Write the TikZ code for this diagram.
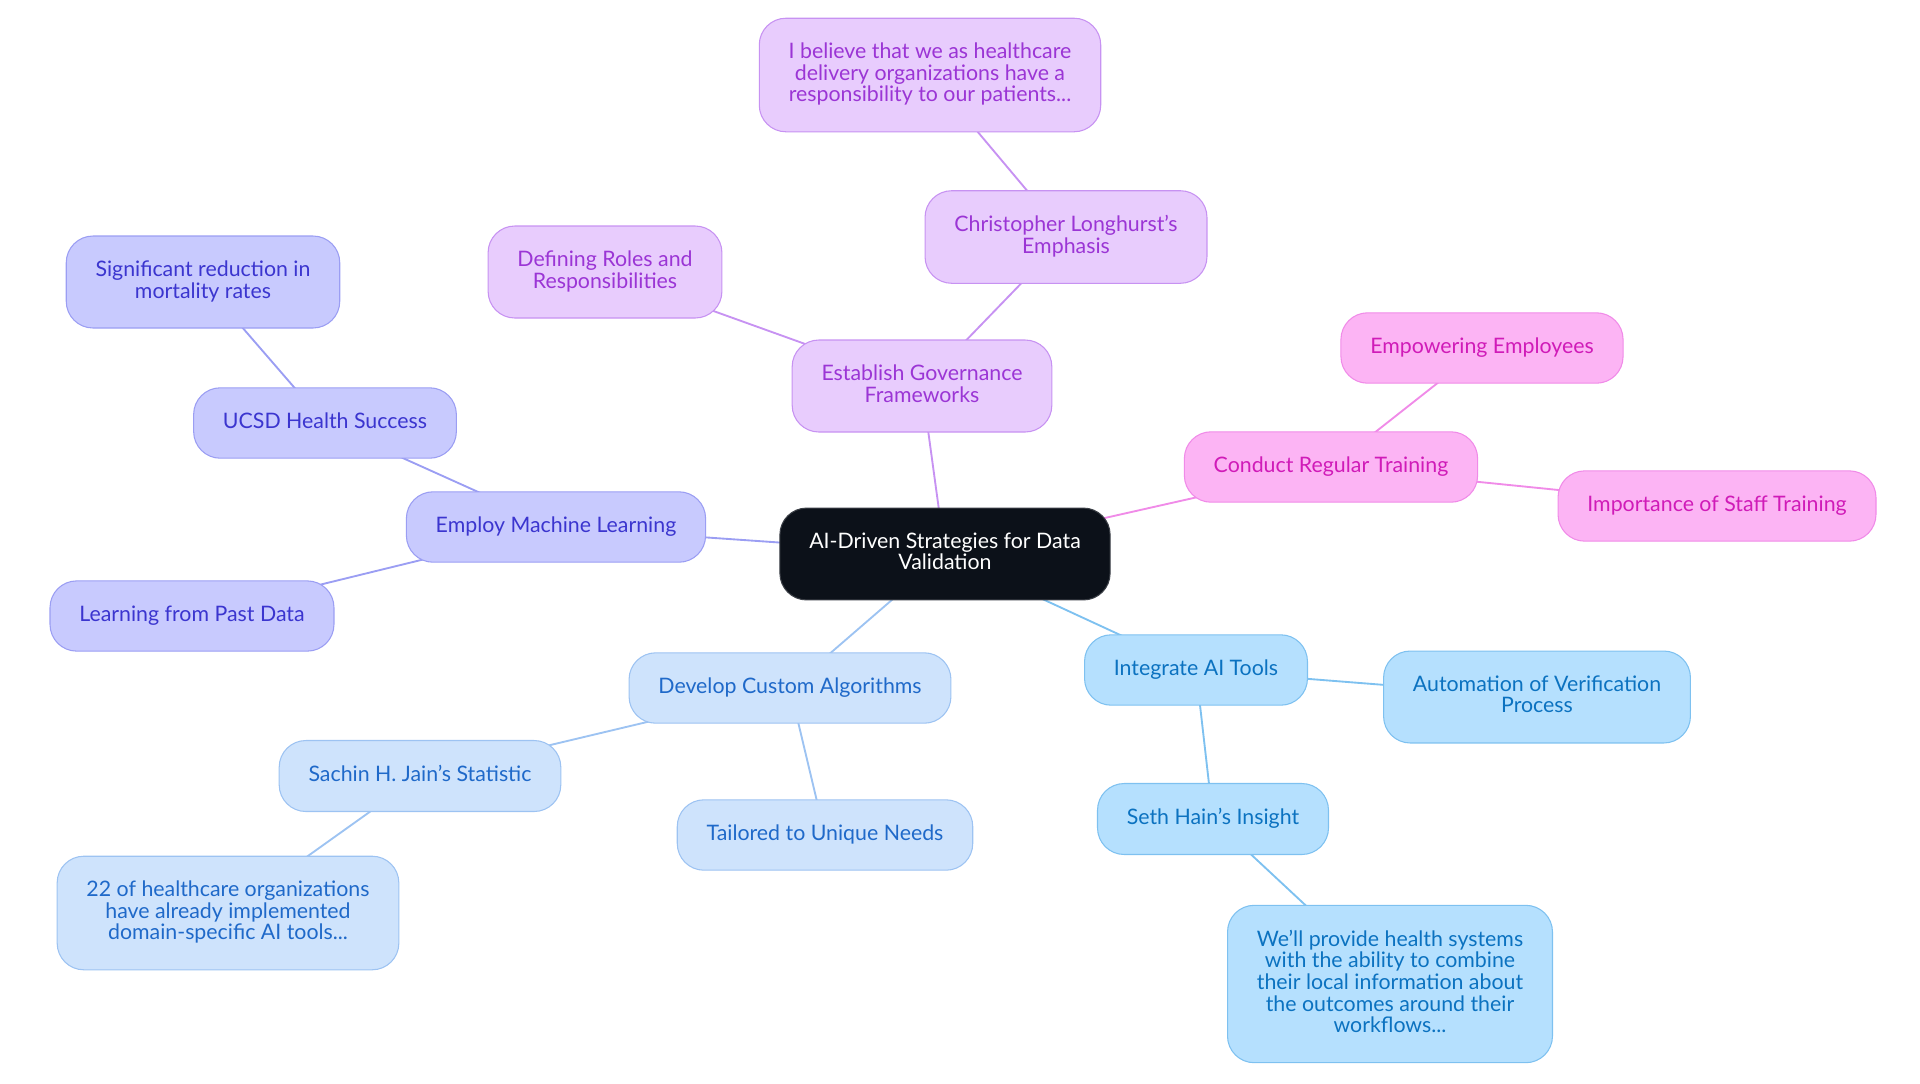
\documentclass[tikz,border=0pt]{standalone}
\usepackage{fontspec}
\setmainfont{Lato}
\usepackage{xcolor}
\usetikzlibrary{backgrounds}

\definecolor{rootfill}{HTML}{0C1119}
\definecolor{rootdraw}{HTML}{3B3F46}
\definecolor{govfill}{HTML}{E8CCFD}
\definecolor{govdraw}{HTML}{C792F2}
\definecolor{govtext}{HTML}{9B35D5}
\definecolor{trainfill}{HTML}{FCB4F4}
\definecolor{traindraw}{HTML}{F08BE8}
\definecolor{traintext}{HTML}{D01BB8}
\definecolor{mlfill}{HTML}{C8CAFE}
\definecolor{mldraw}{HTML}{9B9EF3}
\definecolor{mltext}{HTML}{3B35CF}
\definecolor{algofill}{HTML}{CEE3FC}
\definecolor{algodraw}{HTML}{9DC3F2}
\definecolor{algotext}{HTML}{1F69C9}
\definecolor{toolfill}{HTML}{B5E0FE}
\definecolor{tooldraw}{HTML}{7EC1F0}
\definecolor{tooltext}{HTML}{0B72C0}

\begin{document}
\begin{tikzpicture}[
  x=0.75pt, y=-0.75pt,
  box/.style={draw, line width=0.8pt, rounded corners=20pt, align=center,
    inner xsep=22pt, inner ysep=18.5pt, text depth=4pt,
    font=\fontsize{16}{16.2}\selectfont},
  rootbox/.style={box, fill=rootfill, draw=rootdraw, text=white},
  gov/.style={box, fill=govfill, draw=govdraw, text=govtext},
  train/.style={box, fill=trainfill, draw=traindraw, text=traintext},
  ml/.style={box, fill=mlfill, draw=mldraw, text=mltext},
  algo/.style={box, fill=algofill, draw=algodraw, text=algotext},
  tool/.style={box, fill=toolfill, draw=tooldraw, text=tooltext},
  link/.style={line width=1.4pt}
]
\useasboundingbox (0,0) rectangle (1920,1083);

% Root
\node[rootbox] (root) at (945,554) {AI-Driven Strategies for Data\\Validation};

% Governance branch
\node[gov] (gov) at (922,386) {Establish Governance\\Frameworks};
\node[gov] (chris) at (1066,237) {Christopher Longhurst’s\\Emphasis};
\node[gov] (quote) at (930,75) {I believe that we as healthcare\\delivery organizations have a\\responsibility to our patients...};
\node[gov] (roles) at (605,272) {Defining Roles and\\Responsibilities};

% Training branch
\node[train] (train) at (1331,467) {Conduct Regular Training};
\node[train] (empower) at (1482,348) {Empowering Employees};
\node[train] (staff) at (1717,506) {Importance of Staff Training};

% Machine learning branch
\node[ml] (ml) at (556,527) {Employ Machine Learning};
\node[ml] (ucsd) at (325,423) {UCSD Health Success};
\node[ml] (mort) at (203,282) {Significant reduction in\\mortality rates};
\node[ml] (past) at (192,616) {Learning from Past Data};

% Algorithms branch
\node[algo] (algo) at (790,688) {Develop Custom Algorithms};
\node[algo] (sachin) at (420,776) {Sachin H. Jain’s Statistic};
\node[algo] (stat) at (228,913) {22 of healthcare organizations\\have already implemented\\domain-specific AI tools...};
\node[algo] (needs) at (825,835) {Tailored to Unique Needs};

% Tools branch
\node[tool] (tools) at (1196,670) {Integrate AI Tools};
\node[tool] (auto) at (1537,697) {Automation of Verification\\Process};
\node[tool] (seth) at (1213,819) {Seth Hain’s Insight};
\node[tool] (hain) at (1390,984) {We’ll provide health systems\\with the ability to combine\\their local information about\\the outcomes around their\\workflows...};

% Links
\begin{pgfonlayer}{background}
\draw[link, draw=govdraw] (root.center) -- (gov.center);
\draw[link, draw=govdraw] (gov.center) -- (chris.center);
\draw[link, draw=govdraw] (chris.center) -- (quote.center);
\draw[link, draw=govdraw] (gov.center) -- (roles.center);
\draw[link, draw=traindraw] (root.center) -- (train.center);
\draw[link, draw=traindraw] (train.center) -- (empower.center);
\draw[link, draw=traindraw] (train.center) -- (staff.center);
\draw[link, draw=mldraw] (root.center) -- (ml.center);
\draw[link, draw=mldraw] (ml.center) -- (ucsd.center);
\draw[link, draw=mldraw] (ucsd.center) -- (mort.center);
\draw[link, draw=mldraw] (ml.center) -- (past.center);
\draw[link, draw=algodraw] (root.center) -- (algo.center);
\draw[link, draw=algodraw] (algo.center) -- (sachin.center);
\draw[link, draw=algodraw] (sachin.center) -- (stat.center);
\draw[link, draw=algodraw] (algo.center) -- (needs.center);
\draw[link, draw=tooldraw] (root.center) -- (tools.center);
\draw[link, draw=tooldraw] (tools.center) -- (auto.center);
\draw[link, draw=tooldraw] (tools.center) -- (seth.center);
\draw[link, draw=tooldraw] (seth.center) -- (hain.center);
\end{pgfonlayer}

\end{tikzpicture}
\end{document}
